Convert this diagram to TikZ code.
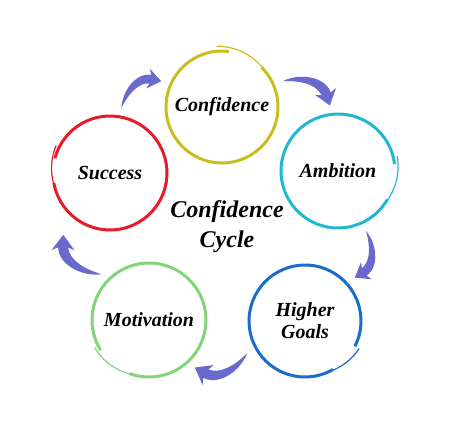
\documentclass[tikz,border=0pt]{standalone}
\usepackage{fontspec}
\setmainfont{Liberation Serif}
\usetikzlibrary{calc}
\definecolor{ringyellow}{RGB}{204,189,31}
\definecolor{ringcyan}{RGB}{32,184,206}
\definecolor{ringred}{RGB}{232,28,40}
\definecolor{ringgreen}{RGB}{128,214,120}
\definecolor{ringblue}{RGB}{26,108,202}
\definecolor{arrowblue}{RGB}{106,106,206}

\begin{document}
\begin{tikzpicture}[x=1pt, y=-1pt,
    ringnode/.style={circle, minimum size=114pt, inner sep=0pt, outer sep=9pt,
        font=\fontsize{20}{22}\selectfont\bfseries\itshape, align=center},
    ringline/.style={line width=3pt},
    tailline/.style={line width=1.2pt}]
    \useasboundingbox (0,0) rectangle (450,433);
    % steps of the cycle
    \node[ringnode] (conf) at (222,107) {Confidence};
    \node[ringnode] (amb) at (338,171) {Ambition};
    \node[ringnode] (goals) at (305,321) {Higher\\Goals};
    \node[ringnode] (motiv) at (149,320) {Motivation};
    \node[ringnode] (succ) at (110,173) {Success};
    \node[font=\fontsize{24}{30}\selectfont\bfseries\itshape, align=center] (title) at (227,227) {Confidence\\Cycle};
    % rings
    \draw[ringline, ringyellow] (conf.center) ++(83:56pt) arc[start angle=83, end angle=405, radius=56pt];
    \draw[tailline, ringyellow, shift={(conf.center)}] plot[domain=400:455, samples=25] (\x:{(56+(\x-400)/11)*1pt});
    \draw[ringline, ringcyan] (amb.center) ++(7:57pt) arc[start angle=7, end angle=330, radius=57pt];
    \draw[tailline, ringcyan, shift={(amb.center)}] plot[domain=325:374, samples=25] (\x:{(57+(\x-325)/12)*1pt});
    \draw[ringline, ringblue] (goals.center) ++(-27:56pt) arc[start angle=-27, end angle=300, radius=56pt];
    \draw[tailline, ringblue, shift={(goals.center)}] plot[domain=295:333, samples=25] (\x:{(56+(\x-295)/8)*1pt});
    \draw[ringline, ringgreen] (motiv.center) ++(212:57pt) arc[start angle=212, end angle=-110, radius=57pt];
    \draw[tailline, ringgreen, shift={(motiv.center)}] plot[domain=-105:-153, samples=25] (\x:{(57+(-105-\x)/12)*1pt});
    \draw[ringline, ringred] (succ.center) ++(165:57pt) arc[start angle=165, end angle=-170, radius=57pt];
    \draw[tailline, ringred, shift={(succ.center)}] plot[domain=-165:-207, samples=25] (\x:{(57+(-165-\x)/12)*1pt});
    % arrows between the steps
    \coordinate (succin) at ([shift={(-7pt,-9pt)}]succ.233);
    \foreach \s/\t in {succ.80/conf.157, conf.23/amb.97, amb.-65/goals.41, goals.209/motiv.-46, motiv.136/succin} {
        \path let \p1=(\s), \p2=(\t) in \pgfextra{
            \pgfmathsetmacro\arrang{atan2(\y2-\y1,\x2-\x1)}
            \pgfmathsetmacro\arrlen{veclen(\x2-\x1,\y2-\y1)}
            \xdef\arrang{\arrang}\xdef\arrlen{\arrlen}};
        \begin{scope}[shift={(\s)}, rotate=\arrang, x=\arrlen pt, y=\arrlen pt]
            \fill[arrowblue] (0,0) .. controls (0.20,0.28) and (0.66,0.45) .. (0.901,0.227)
                -- (0.950,0.346) -- (1,0) -- (0.654,0.050) -- (0.773,0.099)
                .. controls (0.58,0.25) and (0.26,0.15) .. (0,0) -- cycle;
        \end{scope}
    }
\end{tikzpicture}
\end{document}
